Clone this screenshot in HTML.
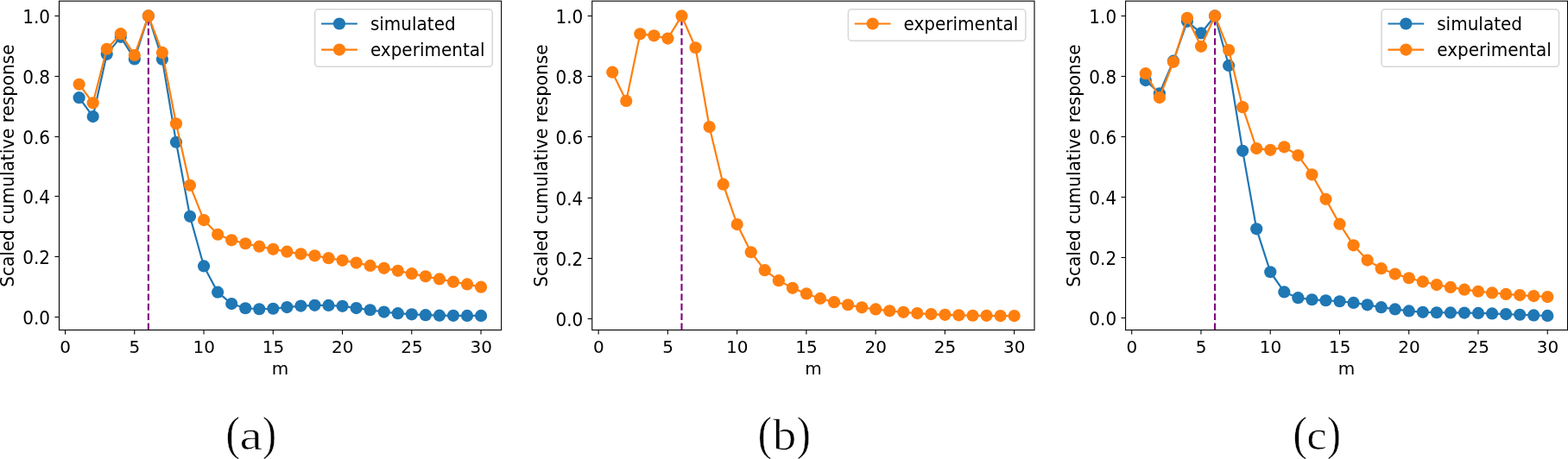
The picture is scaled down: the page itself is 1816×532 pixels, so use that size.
<!DOCTYPE html>
<html lang="en"><head><meta charset="utf-8"><title>Scaled cumulative response</title>
<style>html,body{margin:0;padding:0;background:#fff}body{width:1816px;height:532px;overflow:hidden;position:relative}svg{display:block}text{font-family:"DejaVu Sans","Liberation Sans",sans-serif;font-size:20px;fill:#000}.cap{position:absolute;white-space:nowrap;font-size:0;line-height:0;color:#000;font-family:"Liberation Serif","DejaVu Serif",serif}.cap span{display:inline-block;line-height:1;vertical-align:baseline;transform-origin:0 0;white-space:pre}</style></head><body>
<svg width="1816" height="532" viewBox="0 0 1816 532">
<rect x="0" y="0" width="1816" height="532" fill="#fff"/>
<g>
<line x1="171.88" y1="382.5" x2="171.88" y2="18.5" stroke="#800080" stroke-width="2.1" stroke-dasharray="7.9 3.49"/>
<polyline points="91.63,113.15 107.68,135.05 123.73,62.85 139.78,42.85 155.83,68.45 171.88,18.45 187.93,68.75 203.98,164.75 220.03,250.85 236.08,308.45 252.13,338.65 268.18,352.05 284.23,357.25 300.28,358.25 316.33,357.75 332.38,356.05 348.43,354.55 364.48,353.85 380.53,353.95 396.58,354.85 412.63,357.05 428.68,359.25 444.73,361.55 460.78,363.15 476.83,364.35 492.88,365.15 508.93,365.65 524.98,365.85 541.03,365.95 557.08,365.95" fill="none" stroke="#1f77b4" stroke-width="2.2" stroke-linejoin="round" stroke-linecap="square"/>
<g fill="#1f77b4"><circle cx="91.63" cy="113.15" r="7.1"/><circle cx="107.68" cy="135.05" r="7.1"/><circle cx="123.73" cy="62.85" r="7.1"/><circle cx="139.78" cy="42.85" r="7.1"/><circle cx="155.83" cy="68.45" r="7.1"/><circle cx="171.88" cy="18.45" r="7.1"/><circle cx="187.93" cy="68.75" r="7.1"/><circle cx="203.98" cy="164.75" r="7.1"/><circle cx="220.03" cy="250.85" r="7.1"/><circle cx="236.08" cy="308.45" r="7.1"/><circle cx="252.13" cy="338.65" r="7.1"/><circle cx="268.18" cy="352.05" r="7.1"/><circle cx="284.23" cy="357.25" r="7.1"/><circle cx="300.28" cy="358.25" r="7.1"/><circle cx="316.33" cy="357.75" r="7.1"/><circle cx="332.38" cy="356.05" r="7.1"/><circle cx="348.43" cy="354.55" r="7.1"/><circle cx="364.48" cy="353.85" r="7.1"/><circle cx="380.53" cy="353.95" r="7.1"/><circle cx="396.58" cy="354.85" r="7.1"/><circle cx="412.63" cy="357.05" r="7.1"/><circle cx="428.68" cy="359.25" r="7.1"/><circle cx="444.73" cy="361.55" r="7.1"/><circle cx="460.78" cy="363.15" r="7.1"/><circle cx="476.83" cy="364.35" r="7.1"/><circle cx="492.88" cy="365.15" r="7.1"/><circle cx="508.93" cy="365.65" r="7.1"/><circle cx="524.98" cy="365.85" r="7.1"/><circle cx="541.03" cy="365.95" r="7.1"/><circle cx="557.08" cy="365.95" r="7.1"/></g>
<polyline points="91.63,97.75 107.68,119.35 123.73,56.75 139.78,39.15 155.83,63.95 171.88,18.45 187.93,60.95 203.98,143.25 220.03,214.85 236.08,255.05 252.13,271.75 268.18,278.35 284.23,282.25 300.28,285.65 316.33,288.85 332.38,291.65 348.43,294.35 364.48,296.35 380.53,299.15 396.58,301.85 412.63,304.55 428.68,307.95 444.73,310.85 460.78,313.85 476.83,317.15 492.88,320.35 508.93,323.45 524.98,326.65 541.03,329.45 557.08,332.65" fill="none" stroke="#ff7f0e" stroke-width="2.2" stroke-linejoin="round" stroke-linecap="square"/>
<g fill="#ff7f0e"><circle cx="91.63" cy="97.75" r="7.1"/><circle cx="107.68" cy="119.35" r="7.1"/><circle cx="123.73" cy="56.75" r="7.1"/><circle cx="139.78" cy="39.15" r="7.1"/><circle cx="155.83" cy="63.95" r="7.1"/><circle cx="171.88" cy="18.45" r="7.1"/><circle cx="187.93" cy="60.95" r="7.1"/><circle cx="203.98" cy="143.25" r="7.1"/><circle cx="220.03" cy="214.85" r="7.1"/><circle cx="236.08" cy="255.05" r="7.1"/><circle cx="252.13" cy="271.75" r="7.1"/><circle cx="268.18" cy="278.35" r="7.1"/><circle cx="284.23" cy="282.25" r="7.1"/><circle cx="300.28" cy="285.65" r="7.1"/><circle cx="316.33" cy="288.85" r="7.1"/><circle cx="332.38" cy="291.65" r="7.1"/><circle cx="348.43" cy="294.35" r="7.1"/><circle cx="364.48" cy="296.35" r="7.1"/><circle cx="380.53" cy="299.15" r="7.1"/><circle cx="396.58" cy="301.85" r="7.1"/><circle cx="412.63" cy="304.55" r="7.1"/><circle cx="428.68" cy="307.95" r="7.1"/><circle cx="444.73" cy="310.85" r="7.1"/><circle cx="460.78" cy="313.85" r="7.1"/><circle cx="476.83" cy="317.15" r="7.1"/><circle cx="492.88" cy="320.35" r="7.1"/><circle cx="508.93" cy="323.45" r="7.1"/><circle cx="524.98" cy="326.65" r="7.1"/><circle cx="541.03" cy="329.45" r="7.1"/><circle cx="557.08" cy="332.65" r="7.1"/></g>
<rect x="68.5" y="1.2" width="512.15" height="381.3" fill="none" stroke="#000" stroke-width="1.1"/>
<line x1="75.53" y1="382.5" x2="75.53" y2="387.6" stroke="#000" stroke-width="1.1"/>
<text transform="translate(75.73,409.1)" text-anchor="middle">0</text>
<line x1="155.78" y1="382.5" x2="155.78" y2="387.6" stroke="#000" stroke-width="1.1"/>
<text transform="translate(155.98,409.1)" text-anchor="middle">5</text>
<line x1="236.03" y1="382.5" x2="236.03" y2="387.6" stroke="#000" stroke-width="1.1"/>
<text transform="translate(236.23,409.1)" text-anchor="middle">10</text>
<line x1="316.28" y1="382.5" x2="316.28" y2="387.6" stroke="#000" stroke-width="1.1"/>
<text transform="translate(316.48,409.1)" text-anchor="middle">15</text>
<line x1="396.53" y1="382.5" x2="396.53" y2="387.6" stroke="#000" stroke-width="1.1"/>
<text transform="translate(396.73,409.1)" text-anchor="middle">20</text>
<line x1="476.78" y1="382.5" x2="476.78" y2="387.6" stroke="#000" stroke-width="1.1"/>
<text transform="translate(476.98,409.1)" text-anchor="middle">25</text>
<line x1="557.03" y1="382.5" x2="557.03" y2="387.6" stroke="#000" stroke-width="1.1"/>
<text transform="translate(557.23,409.1)" text-anchor="middle">30</text>
<line x1="63.4" y1="367.5" x2="68.5" y2="367.5" stroke="#000" stroke-width="1.1"/>
<text transform="translate(58,375.5) scale(1,1.03)" text-anchor="end">0.0</text>
<line x1="63.4" y1="297.5" x2="68.5" y2="297.5" stroke="#000" stroke-width="1.1"/>
<text transform="translate(58,305.5) scale(1,1.03)" text-anchor="end">0.2</text>
<line x1="63.4" y1="227.5" x2="68.5" y2="227.5" stroke="#000" stroke-width="1.1"/>
<text transform="translate(58,235.5) scale(1,1.03)" text-anchor="end">0.4</text>
<line x1="63.4" y1="158.5" x2="68.5" y2="158.5" stroke="#000" stroke-width="1.1"/>
<text transform="translate(58,166.5) scale(1,1.03)" text-anchor="end">0.6</text>
<line x1="63.4" y1="88.5" x2="68.5" y2="88.5" stroke="#000" stroke-width="1.1"/>
<text transform="translate(58,96.5) scale(1,1.03)" text-anchor="end">0.8</text>
<line x1="63.4" y1="18.5" x2="68.5" y2="18.5" stroke="#000" stroke-width="1.1"/>
<text transform="translate(58,26.5) scale(1,1.03)" text-anchor="end">1.0</text>
<text transform="translate(324.57,433.7)" text-anchor="middle">m</text>
<text transform="translate(16,192.1) rotate(-90) scale(1,1.03)" text-anchor="middle">Scaled cumulative response</text>
<rect x="364.7" y="10.8" width="205.5" height="66.5" rx="4" ry="4" fill="#fff" fill-opacity="0.8" stroke="#ccc" stroke-opacity="0.8" stroke-width="1.5"/>
<line x1="373.2" y1="27.5" x2="412.8" y2="27.5" stroke="#1f77b4" stroke-width="2.2" stroke-linecap="square"/>
<circle cx="393" cy="27.5" r="7.1" fill="#1f77b4"/>
<text transform="translate(428.9,34.8) scale(1,1.03)">simulated</text>
<line x1="373.2" y1="57.6" x2="412.8" y2="57.6" stroke="#ff7f0e" stroke-width="2.2" stroke-linecap="square"/>
<circle cx="393" cy="57.6" r="7.1" fill="#ff7f0e"/>
<text transform="translate(428.9,64.9) scale(1,1.03)">experimental</text>
</g>
<g>
<line x1="789.48" y1="382.5" x2="789.48" y2="18.5" stroke="#800080" stroke-width="2.1" stroke-dasharray="7.9 3.49"/>
<polyline points="709.23,83.65 725.28,116.95 741.33,39.35 757.38,41.35 773.43,44.55 789.48,18.45 805.53,55.25 821.58,147.05 837.63,213.65 853.68,260.05 869.73,292.25 885.78,313.15 901.83,325.15 917.88,333.85 933.93,340.45 949.98,345.95 966.03,350.15 982.08,353.25 998.13,356.35 1014.18,358.45 1030.23,360.35 1046.28,361.85 1062.33,363.05 1078.38,364.05 1094.43,364.85 1110.48,365.35 1126.53,365.75 1142.58,365.85 1158.63,366.05 1174.68,366.05" fill="none" stroke="#ff7f0e" stroke-width="2.2" stroke-linejoin="round" stroke-linecap="square"/>
<g fill="#ff7f0e"><circle cx="709.23" cy="83.65" r="7.1"/><circle cx="725.28" cy="116.95" r="7.1"/><circle cx="741.33" cy="39.35" r="7.1"/><circle cx="757.38" cy="41.35" r="7.1"/><circle cx="773.43" cy="44.55" r="7.1"/><circle cx="789.48" cy="18.45" r="7.1"/><circle cx="805.53" cy="55.25" r="7.1"/><circle cx="821.58" cy="147.05" r="7.1"/><circle cx="837.63" cy="213.65" r="7.1"/><circle cx="853.68" cy="260.05" r="7.1"/><circle cx="869.73" cy="292.25" r="7.1"/><circle cx="885.78" cy="313.15" r="7.1"/><circle cx="901.83" cy="325.15" r="7.1"/><circle cx="917.88" cy="333.85" r="7.1"/><circle cx="933.93" cy="340.45" r="7.1"/><circle cx="949.98" cy="345.95" r="7.1"/><circle cx="966.03" cy="350.15" r="7.1"/><circle cx="982.08" cy="353.25" r="7.1"/><circle cx="998.13" cy="356.35" r="7.1"/><circle cx="1014.18" cy="358.45" r="7.1"/><circle cx="1030.23" cy="360.35" r="7.1"/><circle cx="1046.28" cy="361.85" r="7.1"/><circle cx="1062.33" cy="363.05" r="7.1"/><circle cx="1078.38" cy="364.05" r="7.1"/><circle cx="1094.43" cy="364.85" r="7.1"/><circle cx="1110.48" cy="365.35" r="7.1"/><circle cx="1126.53" cy="365.75" r="7.1"/><circle cx="1142.58" cy="365.85" r="7.1"/><circle cx="1158.63" cy="366.05" r="7.1"/><circle cx="1174.68" cy="366.05" r="7.1"/></g>
<rect x="685.75" y="1.2" width="512.25" height="381.3" fill="none" stroke="#000" stroke-width="1.1"/>
<line x1="693.13" y1="382.5" x2="693.13" y2="387.6" stroke="#000" stroke-width="1.1"/>
<text transform="translate(693.33,409.1)" text-anchor="middle">0</text>
<line x1="773.38" y1="382.5" x2="773.38" y2="387.6" stroke="#000" stroke-width="1.1"/>
<text transform="translate(773.58,409.1)" text-anchor="middle">5</text>
<line x1="853.63" y1="382.5" x2="853.63" y2="387.6" stroke="#000" stroke-width="1.1"/>
<text transform="translate(853.83,409.1)" text-anchor="middle">10</text>
<line x1="933.88" y1="382.5" x2="933.88" y2="387.6" stroke="#000" stroke-width="1.1"/>
<text transform="translate(934.08,409.1)" text-anchor="middle">15</text>
<line x1="1014.13" y1="382.5" x2="1014.13" y2="387.6" stroke="#000" stroke-width="1.1"/>
<text transform="translate(1014.33,409.1)" text-anchor="middle">20</text>
<line x1="1094.38" y1="382.5" x2="1094.38" y2="387.6" stroke="#000" stroke-width="1.1"/>
<text transform="translate(1094.58,409.1)" text-anchor="middle">25</text>
<line x1="1174.63" y1="382.5" x2="1174.63" y2="387.6" stroke="#000" stroke-width="1.1"/>
<text transform="translate(1174.83,409.1)" text-anchor="middle">30</text>
<line x1="680.65" y1="369.5" x2="685.75" y2="369.5" stroke="#000" stroke-width="1.1"/>
<text transform="translate(675.25,377.5) scale(1,1.03)" text-anchor="end">0.0</text>
<line x1="680.65" y1="299.5" x2="685.75" y2="299.5" stroke="#000" stroke-width="1.1"/>
<text transform="translate(675.25,307.5) scale(1,1.03)" text-anchor="end">0.2</text>
<line x1="680.65" y1="229.5" x2="685.75" y2="229.5" stroke="#000" stroke-width="1.1"/>
<text transform="translate(675.25,237.5) scale(1,1.03)" text-anchor="end">0.4</text>
<line x1="680.65" y1="158.5" x2="685.75" y2="158.5" stroke="#000" stroke-width="1.1"/>
<text transform="translate(675.25,166.5) scale(1,1.03)" text-anchor="end">0.6</text>
<line x1="680.65" y1="88.5" x2="685.75" y2="88.5" stroke="#000" stroke-width="1.1"/>
<text transform="translate(675.25,96.5) scale(1,1.03)" text-anchor="end">0.8</text>
<line x1="680.65" y1="18.5" x2="685.75" y2="18.5" stroke="#000" stroke-width="1.1"/>
<text transform="translate(675.25,26.5) scale(1,1.03)" text-anchor="end">1.0</text>
<text transform="translate(941.88,433.7)" text-anchor="middle">m</text>
<text transform="translate(633.6,192.1) rotate(-90) scale(1,1.03)" text-anchor="middle">Scaled cumulative response</text>
<rect x="982.35" y="10.8" width="205.5" height="36.4" rx="4" ry="4" fill="#fff" fill-opacity="0.8" stroke="#ccc" stroke-opacity="0.8" stroke-width="1.5"/>
<line x1="990.85" y1="27.5" x2="1030.45" y2="27.5" stroke="#ff7f0e" stroke-width="2.2" stroke-linecap="square"/>
<circle cx="1010.65" cy="27.5" r="7.1" fill="#ff7f0e"/>
<text transform="translate(1046.55,34.8) scale(1,1.03)">experimental</text>
</g>
<g>
<line x1="1407.08" y1="382.5" x2="1407.08" y2="18.5" stroke="#800080" stroke-width="2.1" stroke-dasharray="7.9 3.49"/>
<polyline points="1326.83,93.05 1342.88,108.25 1358.93,70.65 1374.98,24.85 1391.03,38.45 1407.08,18.45 1423.13,75.95 1439.18,174.85 1455.23,265.35 1471.28,315.25 1487.33,338.45 1503.38,345.15 1519.43,347.25 1535.48,348.25 1551.53,349.25 1567.58,350.95 1583.63,353.35 1599.68,356.15 1615.73,358.45 1631.78,360.45 1647.83,361.85 1663.88,362.25 1679.93,362.45 1695.98,362.55 1712.03,362.95 1728.08,363.45 1744.13,364.05 1760.18,364.75 1776.23,365.45 1792.28,365.95" fill="none" stroke="#1f77b4" stroke-width="2.2" stroke-linejoin="round" stroke-linecap="square"/>
<g fill="#1f77b4"><circle cx="1326.83" cy="93.05" r="7.1"/><circle cx="1342.88" cy="108.25" r="7.1"/><circle cx="1358.93" cy="70.65" r="7.1"/><circle cx="1374.98" cy="24.85" r="7.1"/><circle cx="1391.03" cy="38.45" r="7.1"/><circle cx="1407.08" cy="18.45" r="7.1"/><circle cx="1423.13" cy="75.95" r="7.1"/><circle cx="1439.18" cy="174.85" r="7.1"/><circle cx="1455.23" cy="265.35" r="7.1"/><circle cx="1471.28" cy="315.25" r="7.1"/><circle cx="1487.33" cy="338.45" r="7.1"/><circle cx="1503.38" cy="345.15" r="7.1"/><circle cx="1519.43" cy="347.25" r="7.1"/><circle cx="1535.48" cy="348.25" r="7.1"/><circle cx="1551.53" cy="349.25" r="7.1"/><circle cx="1567.58" cy="350.95" r="7.1"/><circle cx="1583.63" cy="353.35" r="7.1"/><circle cx="1599.68" cy="356.15" r="7.1"/><circle cx="1615.73" cy="358.45" r="7.1"/><circle cx="1631.78" cy="360.45" r="7.1"/><circle cx="1647.83" cy="361.85" r="7.1"/><circle cx="1663.88" cy="362.25" r="7.1"/><circle cx="1679.93" cy="362.45" r="7.1"/><circle cx="1695.98" cy="362.55" r="7.1"/><circle cx="1712.03" cy="362.95" r="7.1"/><circle cx="1728.08" cy="363.45" r="7.1"/><circle cx="1744.13" cy="364.05" r="7.1"/><circle cx="1760.18" cy="364.75" r="7.1"/><circle cx="1776.23" cy="365.45" r="7.1"/><circle cx="1792.28" cy="365.95" r="7.1"/></g>
<polyline points="1326.83,85.15 1342.88,113.05 1358.93,71.85 1374.98,20.75 1391.03,53.85 1407.08,18.45 1423.13,58.05 1439.18,124.15 1455.23,172.05 1471.28,173.85 1487.33,170.35 1503.38,180.05 1519.43,202.35 1535.48,230.85 1551.53,259.65 1567.58,284.35 1583.63,301.55 1599.68,311.15 1615.73,317.55 1631.78,322.25 1647.83,326.45 1663.88,330.05 1679.93,332.95 1695.98,335.65 1712.03,337.75 1728.08,339.45 1744.13,340.95 1760.18,342.05 1776.23,343.05 1792.28,344.05" fill="none" stroke="#ff7f0e" stroke-width="2.2" stroke-linejoin="round" stroke-linecap="square"/>
<g fill="#ff7f0e"><circle cx="1326.83" cy="85.15" r="7.1"/><circle cx="1342.88" cy="113.05" r="7.1"/><circle cx="1358.93" cy="71.85" r="7.1"/><circle cx="1374.98" cy="20.75" r="7.1"/><circle cx="1391.03" cy="53.85" r="7.1"/><circle cx="1407.08" cy="18.45" r="7.1"/><circle cx="1423.13" cy="58.05" r="7.1"/><circle cx="1439.18" cy="124.15" r="7.1"/><circle cx="1455.23" cy="172.05" r="7.1"/><circle cx="1471.28" cy="173.85" r="7.1"/><circle cx="1487.33" cy="170.35" r="7.1"/><circle cx="1503.38" cy="180.05" r="7.1"/><circle cx="1519.43" cy="202.35" r="7.1"/><circle cx="1535.48" cy="230.85" r="7.1"/><circle cx="1551.53" cy="259.65" r="7.1"/><circle cx="1567.58" cy="284.35" r="7.1"/><circle cx="1583.63" cy="301.55" r="7.1"/><circle cx="1599.68" cy="311.15" r="7.1"/><circle cx="1615.73" cy="317.55" r="7.1"/><circle cx="1631.78" cy="322.25" r="7.1"/><circle cx="1647.83" cy="326.45" r="7.1"/><circle cx="1663.88" cy="330.05" r="7.1"/><circle cx="1679.93" cy="332.95" r="7.1"/><circle cx="1695.98" cy="335.65" r="7.1"/><circle cx="1712.03" cy="337.75" r="7.1"/><circle cx="1728.08" cy="339.45" r="7.1"/><circle cx="1744.13" cy="340.95" r="7.1"/><circle cx="1760.18" cy="342.05" r="7.1"/><circle cx="1776.23" cy="343.05" r="7.1"/><circle cx="1792.28" cy="344.05" r="7.1"/></g>
<rect x="1303.6" y="1.2" width="511.95" height="381.3" fill="none" stroke="#000" stroke-width="1.1"/>
<line x1="1310.73" y1="382.5" x2="1310.73" y2="387.6" stroke="#000" stroke-width="1.1"/>
<text transform="translate(1310.93,409.1)" text-anchor="middle">0</text>
<line x1="1390.98" y1="382.5" x2="1390.98" y2="387.6" stroke="#000" stroke-width="1.1"/>
<text transform="translate(1391.18,409.1)" text-anchor="middle">5</text>
<line x1="1471.23" y1="382.5" x2="1471.23" y2="387.6" stroke="#000" stroke-width="1.1"/>
<text transform="translate(1471.43,409.1)" text-anchor="middle">10</text>
<line x1="1551.48" y1="382.5" x2="1551.48" y2="387.6" stroke="#000" stroke-width="1.1"/>
<text transform="translate(1551.68,409.1)" text-anchor="middle">15</text>
<line x1="1631.73" y1="382.5" x2="1631.73" y2="387.6" stroke="#000" stroke-width="1.1"/>
<text transform="translate(1631.93,409.1)" text-anchor="middle">20</text>
<line x1="1711.98" y1="382.5" x2="1711.98" y2="387.6" stroke="#000" stroke-width="1.1"/>
<text transform="translate(1712.18,409.1)" text-anchor="middle">25</text>
<line x1="1792.23" y1="382.5" x2="1792.23" y2="387.6" stroke="#000" stroke-width="1.1"/>
<text transform="translate(1792.43,409.1)" text-anchor="middle">30</text>
<line x1="1298.5" y1="368.5" x2="1303.6" y2="368.5" stroke="#000" stroke-width="1.1"/>
<text transform="translate(1293.1,376.5) scale(1,1.03)" text-anchor="end">0.0</text>
<line x1="1298.5" y1="298.5" x2="1303.6" y2="298.5" stroke="#000" stroke-width="1.1"/>
<text transform="translate(1293.1,306.5) scale(1,1.03)" text-anchor="end">0.2</text>
<line x1="1298.5" y1="228.5" x2="1303.6" y2="228.5" stroke="#000" stroke-width="1.1"/>
<text transform="translate(1293.1,236.5) scale(1,1.03)" text-anchor="end">0.4</text>
<line x1="1298.5" y1="158.5" x2="1303.6" y2="158.5" stroke="#000" stroke-width="1.1"/>
<text transform="translate(1293.1,166.5) scale(1,1.03)" text-anchor="end">0.6</text>
<line x1="1298.5" y1="88.5" x2="1303.6" y2="88.5" stroke="#000" stroke-width="1.1"/>
<text transform="translate(1293.1,96.5) scale(1,1.03)" text-anchor="end">0.8</text>
<line x1="1298.5" y1="18.5" x2="1303.6" y2="18.5" stroke="#000" stroke-width="1.1"/>
<text transform="translate(1293.1,26.5) scale(1,1.03)" text-anchor="end">1.0</text>
<text transform="translate(1559.57,433.7)" text-anchor="middle">m</text>
<text transform="translate(1251.2,192.1) rotate(-90) scale(1,1.03)" text-anchor="middle">Scaled cumulative response</text>
<rect x="1600" y="10.8" width="205.5" height="66.5" rx="4" ry="4" fill="#fff" fill-opacity="0.8" stroke="#ccc" stroke-opacity="0.8" stroke-width="1.5"/>
<line x1="1608.5" y1="27.5" x2="1648.1" y2="27.5" stroke="#1f77b4" stroke-width="2.2" stroke-linecap="square"/>
<circle cx="1628.3" cy="27.5" r="7.1" fill="#1f77b4"/>
<text transform="translate(1664.2,34.8) scale(1,1.03)">simulated</text>
<line x1="1608.5" y1="57.6" x2="1648.1" y2="57.6" stroke="#ff7f0e" stroke-width="2.2" stroke-linecap="square"/>
<circle cx="1628.3" cy="57.6" r="7.1" fill="#ff7f0e"/>
<text transform="translate(1664.2,64.9) scale(1,1.03)">experimental</text>
</g>
</svg>
<div class="cap" style="left:253.7px;top:470px"><span style="font-size:55.26px;width:18.4px;-webkit-text-stroke:0.5px #fff;transform:translate(7.6px,5.32px) scaleX(0.8876)">(</span><span style="font-size:49.48px;width:21.96px;-webkit-text-stroke:0.7px #fff;transform:translate(5.45px,4.79px) scaleX(1.2075)">a</span><span style="font-size:55.26px;width:18.4px;-webkit-text-stroke:0.5px #fff;transform:translate(10.04px,5.32px) scaleX(0.8735)">)</span></div>
<div class="cap" style="left:870px;top:470px"><span style="font-size:55.26px;width:18.4px;-webkit-text-stroke:0.5px #fff;transform:translate(7.63px,5.32px) scaleX(0.8735)">(</span><span style="font-size:50.88px;width:25.44px;-webkit-text-stroke:0.7px #fff;transform:translate(7.05px,4.78px) scaleX(1.0680)">b</span><span style="font-size:55.26px;width:18.4px;-webkit-text-stroke:0.5px #fff;transform:translate(8.86px,5.32px) scaleX(0.8735)">)</span></div>
<div class="cap" style="left:1489.9px;top:470px"><span style="font-size:55.26px;width:18.4px;-webkit-text-stroke:0.5px #fff;transform:translate(7.6px,5.32px) scaleX(0.8876)">(</span><span style="font-size:49.27px;width:21.87px;-webkit-text-stroke:0.7px #fff;transform:translate(5.33px,4.8px) scaleX(1.0770)">c</span><span style="font-size:55.26px;width:18.4px;-webkit-text-stroke:0.5px #fff;transform:translate(6.94px,5.32px) scaleX(0.8665)">)</span></div>
</body></html>
